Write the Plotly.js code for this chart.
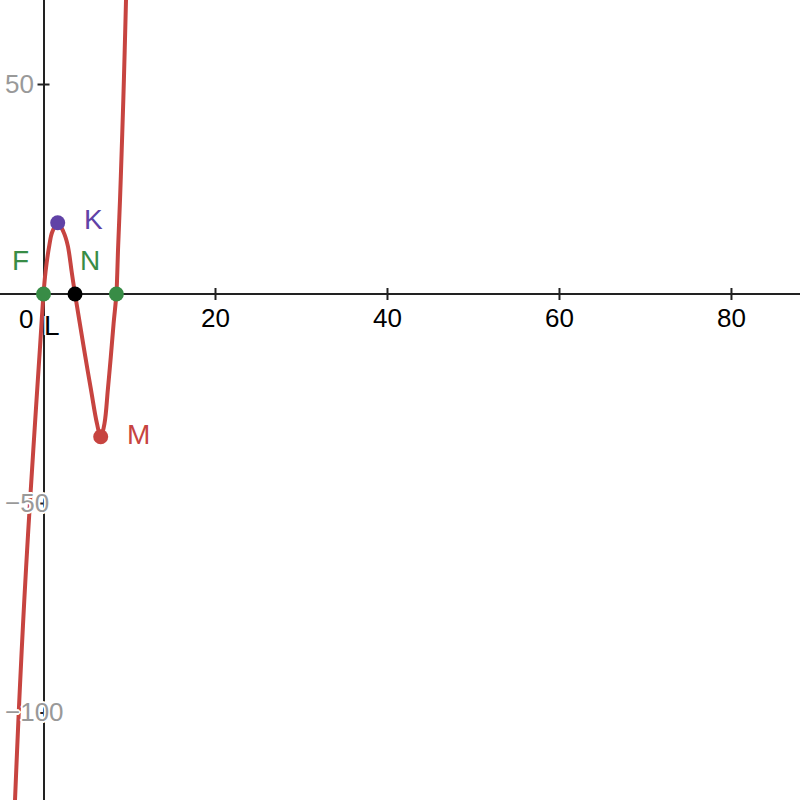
<!DOCTYPE html>
<html>
<head>
<meta charset="utf-8">
<script src="https://cdn.plot.ly/plotly-3.0.1.min.js"></script>
<style>html,body{margin:0;padding:0;background:#fff;}#chart{width:800px;height:800px;}</style>
</head>
<body>
<div id="chart"></div>
<script>
// Curve samples
const curveX = [-3.459, -3.314, -3.070, -2.814, -2.535, -2.233, -1.907, -1.558, -0.814, -0.430, 0, 0.233, 0.674, 1.012, 1.651, 2.326, 2.814, 3.279, 3.663, 4.221, 4.860, 5.523, 6.209, 6.651, 7.093, 7.477, 7.826, 8.151, 8.477, 8.570, 8.663, 8.895, 9.093, 9.279, 9.442, 9.593, 9.686];
const curveY = [-127.9, -120.8, -108.8, -96.9, -85.0, -73.0, -61.1, -49.2, -25.3, -13.4, 0, 5.25, 11.62, 14.8, 17.02, 14.8, 11.62, 5.25, 0, -7.0, -14.96, -22.9, -30.86, -34.06, -30.86, -22.9, -14.96, -7.0, 0, 4.53, 10.5, 22.43, 34.37, 46.3, 58.2, 70.17, 77.3];

// Labelled points
const pointNames = ['F', 'L', 'N', 'K', 'M'];
const pointX = [0, 3.663, 8.477, 1.651, 6.651];
const pointY = [0, 0, 0, 17.02, -34.06];

// Axis tick labels
const xTicks = [20, 40, 60, 80];
const yTicks = [50, -50, -100];
const originLabel = '0';

// Styles
const RED = '#c74440', GREEN = '#388c46', PURPLE = '#6042a6', BLACK = '#000000';
const pointColors = [GREEN, BLACK, GREEN, PURPLE, RED];
const labelOffsets = [[-23, 34], [-23, -31], [-26, 34], [36, 3], [38, 2]];
const FONT = 'Arial, "Liberation Sans", sans-serif';
const halo = '2px 0 0 #fff, -2px 0 0 #fff, 0 2px 0 #fff, 0 -2px 0 #fff, 1px 1px 0 #fff, -1px -1px 0 #fff, 1px -1px 0 #fff, -1px 1px 0 #fff';

const traces = [
  {x: curveX, y: curveY, mode: 'lines', type: 'scatter',
   line: {color: RED, width: 4, shape: 'spline', smoothing: 1},
   hoverinfo: 'skip', cliponaxis: true},
  {x: pointX, y: pointY, mode: 'markers', type: 'scatter',
   marker: {size: 15, color: pointColors, line: {width: 0}},
   hoverinfo: 'skip', cliponaxis: false}
];

const annotations = [];
xTicks.forEach(t => annotations.push({
  x: t, y: 0, xref: 'x', yref: 'y', text: String(t), showarrow: false,
  xanchor: 'center', yanchor: 'middle', yshift: -24,
  font: {family: FONT, size: 26, color: '#000', shadow: halo}
}));
annotations.push({
  x: 0, y: 0, xref: 'x', yref: 'y', text: originLabel, showarrow: false,
  xanchor: 'center', yanchor: 'middle', xshift: -18, yshift: -25,
  font: {family: FONT, size: 26, color: '#000', shadow: halo}
});
yTicks.forEach(t => annotations.push({
  x: 0, y: t, xref: 'paper', yref: 'y', text: String(t).replace('-', '\u2212'), showarrow: false,
  xanchor: 'left', yanchor: 'middle', xshift: 3, yshift: 1,
  font: {family: FONT, size: 26, color: '#999999', shadow: halo}
}));
pointNames.forEach((n, i) => annotations.push({
  x: pointX[i], y: pointY[i], xref: 'x', yref: 'y', text: n, showarrow: false,
  xanchor: 'center', yanchor: 'middle', xshift: labelOffsets[i][0], yshift: labelOffsets[i][1],
  font: {family: FONT, size: 28, color: pointColors[i], shadow: halo}
}));

const shapes = [];
xTicks.forEach(t => shapes.push({
  type: 'line', xref: 'x', yref: 'y', x0: t, x1: t,
  ysizemode: 'pixel', yanchor: 0, y0: -6, y1: 6,
  line: {color: '#222', width: 2}, layer: 'below'
}));
yTicks.forEach(t => shapes.push({
  type: 'line', xref: 'x', yref: 'y', y0: t, y1: t,
  xsizemode: 'pixel', xanchor: 0, x0: -6, x1: 6,
  line: {color: '#222', width: 2}, layer: 'below'
}));

const layout = {
  width: 800, height: 800,
  margin: {l: 0, r: 0, t: 0, b: 0, pad: 0},
  paper_bgcolor: '#fff', plot_bgcolor: '#fff',
  showlegend: false,
  xaxis: {range: [-5.06, 87.97], showgrid: false, zeroline: true, zerolinecolor: '#222', zerolinewidth: 2,
          showticklabels: false, ticks: '', showline: false, fixedrange: true},
  yaxis: {range: [-120.76, 70.17], showgrid: false, zeroline: true, zerolinecolor: '#222', zerolinewidth: 2,
          showticklabels: false, ticks: '', showline: false, fixedrange: true},
  annotations: annotations,
  shapes: shapes
};

Plotly.newPlot('chart', traces, layout, {staticPlot: true, displayModeBar: false});
</script>
</body>
</html>
